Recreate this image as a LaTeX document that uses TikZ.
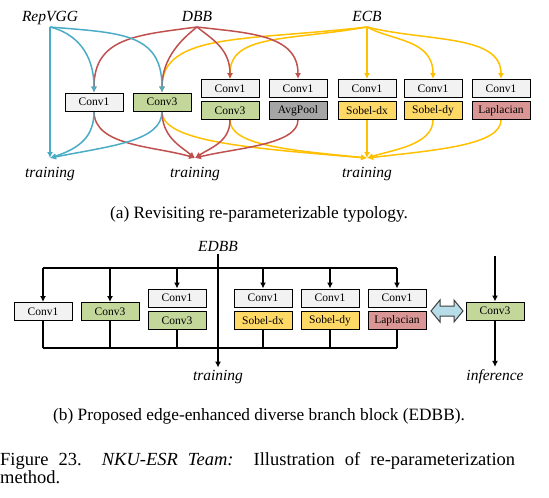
\documentclass[tikz,border=0pt]{standalone}
\usepackage{fontspec}
\setmainfont{Liberation Serif}
\usetikzlibrary{arrows.meta}
\definecolor{cblue}{HTML}{4BACC6}
\definecolor{cred}{HTML}{C0504D}
\definecolor{cyel}{HTML}{FFC000}
\definecolor{fgray}{HTML}{F2F2F2}
\definecolor{fgreen}{HTML}{C4D79B}
\definecolor{fdark}{HTML}{A5A5A5}
\definecolor{fyel}{HTML}{FFD966}
\definecolor{fpink}{HTML}{DA9694}
\definecolor{fcyan}{HTML}{B7DEE8}
\definecolor{dline}{HTML}{3F3F3F}
\pgfdeclarelayer{bg}
\pgfsetlayers{bg,main}
\tikzset{
  cbox/.style={draw=black, line width=1pt, minimum width=58pt, minimum height=18pt, inner sep=0pt, font=\fontsize{11.5}{12}\selectfont},
  graybox/.style={cbox, fill=fgray},
  greenbox/.style={cbox, fill=fgreen},
  darkbox/.style={cbox, fill=fdark},
  yelbox/.style={cbox, fill=fyel},
  pinkbox/.style={cbox, fill=fpink},
  lab/.style={font=\fontsize{15.5}{16}\selectfont\itshape, inner sep=2pt, anchor=base},
  captxt/.style={font=\fontsize{17.3}{20}\selectfont, inner sep=0pt},
  figtxt/.style={font=\fontsize{18.5}{21}\selectfont, inner sep=0pt},
  tipa/.style={-{Latex[length=6pt,width=6pt]}},
  bline/.style={cblue, line width=1.5pt, tipa},
  rline/.style={cred, line width=1.5pt, tipa},
  yline/.style={cyel, line width=1.5pt, tipa},
  kline/.style={black, line width=1.2pt},
  karrow/.style={kline, -{Latex[length=6pt,width=6pt]}},
  dblarrow/.style={draw=dline, line width=1pt, fill=fcyan, line join=miter}
}
\begin{document}
\begin{tikzpicture}[x=1pt, y=-1pt]
\useasboundingbox (0,0) rectangle (549,498);

% ---------- part (a) ----------
\node[lab] (rep) at (50,21) {RepVGG};
\node[lab] (dbb) at (197,21) {DBB};
\node[lab] (ecb) at (367,21) {ECB};
\coordinate (s1) at (50,27);
\coordinate (s2) at (197,27);
\coordinate (s3) at (367,27);

\node[lab] (tr1) at (50,177) {training};
\node[lab] (tr2) at (195,177) {training};
\node[lab] (tr3) at (367,177) {training};
\coordinate (t1) at (50,158);
\coordinate (t2) at (195,158);
\coordinate (t3) at (367,158);

\node[graybox] (a1) at (94,102) {Conv1};
\node[greenbox] (a2) at (162,102) {Conv3};
\node[graybox] (a3u) at (230,88.5) {Conv1};
\node[greenbox] (a3l) at (230,110.5) {Conv3};
\node[graybox] (a4u) at (298,88.5) {Conv1};
\node[darkbox] (a4l) at (298,110.5) {AvgPool};
\node[graybox] (a5u) at (367,88.5) {Conv1};
\node[yelbox] (a5l) at (367,110.5) {Sobel-dx};
\node[graybox] (a6u) at (433,88.5) {Conv1};
\node[yelbox] (a6l) at (433,110.5) {Sobel-dy};
\node[graybox] (a7u) at (501,88.5) {Conv1};
\node[pinkbox] (a7l) at (501,110.5) {Laplacian};

\begin{pgfonlayer}{bg}
% yellow (ECB)
\draw[yline] (s3) .. controls +(-120,14) and +(0,-60) .. (a2.north);
\draw[yline] (s3) .. controls +(-80,14) and +(0,-45) .. (a3u.north);
\draw[yline] (s3) -- (a5u.north);
\draw[yline] (s3) .. controls +(25,14) and +(0,-40) .. (a6u.north);
\draw[yline] (s3) .. controls +(60,15) and +(0,-45) .. (a7u.north);
\draw[yline] (a2.south) .. controls +(0,30) and +(-120,-10) .. (t3);
\draw[yline] (a3l.south) .. controls +(0,25) and +(-80,-8) .. (t3);
\draw[yline] (a5l.south) -- (t3);
\draw[yline] (a6l.south) .. controls +(0,25) and +(25,-8) .. (t3);
\draw[yline] (a7l.south) .. controls +(0,25) and +(70,-8) .. (t3);
% red (DBB)
\draw[rline] (s2) .. controls +(-60,8) and +(0,-55) .. (a1.north);
\draw[rline] (s2) .. controls +(-15,12) and +(0,-35) .. (a2.north);
\draw[rline] (s2) .. controls +(15,12) and +(0,-30) .. (a3u.north);
\draw[rline] (s2) .. controls +(50,6) and +(0,-45) .. (a4u.north);
\draw[rline] (a1.south) .. controls +(0,35) and +(-40,-12) .. (t2);
\draw[rline] (a2.south) .. controls +(0,25) and +(-15,-12) .. (t2);
\draw[rline] (a3l.south) .. controls +(0,22) and +(15,-10) .. (t2);
\draw[rline] (a4l.south) .. controls +(0,25) and +(40,-10) .. (t2);
% blue (RepVGG)
\draw[bline] (s1) .. controls +(25,6) and +(0,-40) .. (a1.north);
\draw[bline] (s1) .. controls +(70,6) and +(0,-60) .. (a2.north);
\draw[bline] (s1) -- (t1);
\draw[bline] (a1.south) .. controls +(0,25) and +(30,-10) .. (t1);
\draw[bline] (a2.south) .. controls +(0,30) and +(60,-12) .. (t1);
\end{pgfonlayer}

\node[captxt, anchor=base] (capa) at (259,218) {(a) Revisiting re-parameterizable typology.};

% ---------- part (b) ----------
\node[lab] (edbb) at (218,251.7) {EDBB};
\coordinate (tl) at (43,268);
\coordinate (tr) at (397,268);
\coordinate (bl) at (43,348);
\coordinate (br) at (397,348);

\node[graybox] (b1) at (43,311.5) {Conv1};
\node[greenbox] (b2) at (110,311.5) {Conv3};
\node[graybox] (b3u) at (177,298) {Conv1};
\node[greenbox] (b3l) at (177,320.5) {Conv3};
\node[graybox] (b4u) at (263,298) {Conv1};
\node[yelbox] (b4l) at (263,320.5) {Sobel-dx};
\node[graybox] (b5u) at (330,298) {Conv1};
\node[yelbox] (b5l) at (330,320.5) {Sobel-dy};
\node[graybox] (b6u) at (397,298) {Conv1};
\node[pinkbox] (b6l) at (397,320.5) {Laplacian};

\node[lab] (trb) at (218,380) {training};

\draw[kline] (tl) -- (tr);
\draw[kline] (bl) -- (br);
\foreach \n in {b1,b2,b3u,b4u,b5u,b6u}
  \draw[karrow] (\n.north |- tl) -- (\n.north);
\foreach \n in {b1,b2,b3l,b4l,b5l,b6l}
  \draw[kline] (\n.south) -- (\n.south |- bl);
\draw[karrow] (edbb.south) -- (trb.north);

% double arrow
\draw[dblarrow] (431,311) -- (440,300) -- (440,306) -- (454,306) -- (454,300) -- (463,311)
  -- (454,322) -- (454,316) -- (440,316) -- (440,322) -- cycle;

\coordinate (itop) at (495,256);
\node[greenbox] (inf) at (495,311) {Conv3};
\node[lab] (infl) at (495,380) {inference};
\draw[karrow] (itop) -- (inf.north);
\draw[karrow] (inf.south) -- (infl.north);

\node[captxt, anchor=base] (capb) at (259,420) {(b) Proposed edge-enhanced diverse branch block (EDBB).};

% ---------- figure caption ----------
\node[figtxt, anchor=base west] (fig1) at (0,465) {\makebox[515pt][s]{Figure 23.\ \ \textit{NKU-ESR Team:}\ \ Illustration of re-parameterization}};
\node[figtxt, anchor=base west] (fig2) at (0,483) {method.};
\end{tikzpicture}
\end{document}
